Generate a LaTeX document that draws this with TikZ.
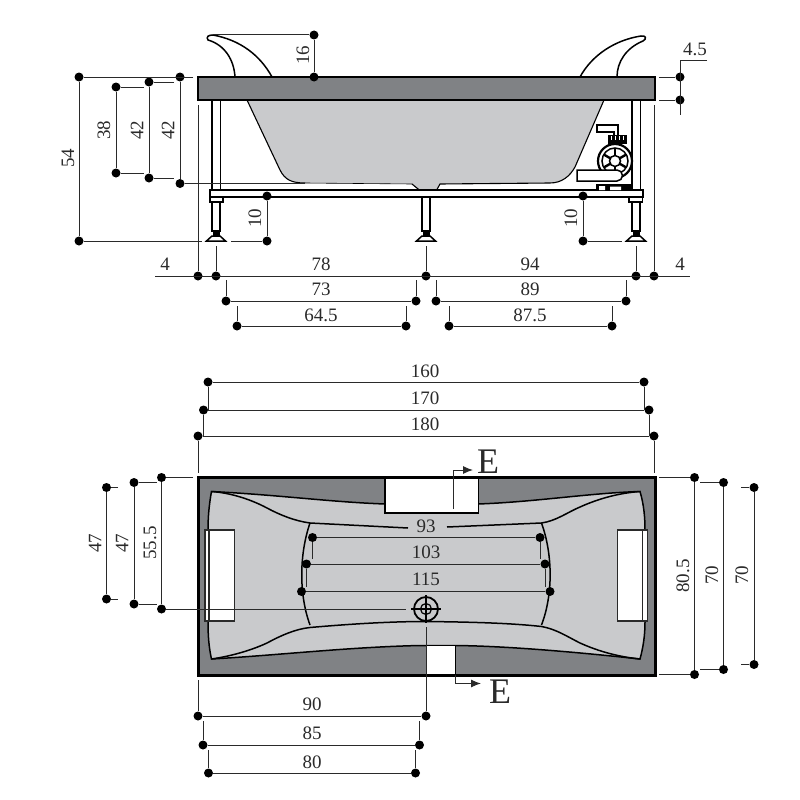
\documentclass[tikz,border=0pt]{standalone}
\usepackage{fontspec}
\setmainfont{Liberation Serif}
\usetikzlibrary{arrows.meta}
\definecolor{rimGray}{HTML}{808285}
\definecolor{bathGray}{HTML}{C9CACC}
\definecolor{dimInk}{HTML}{2A2A2A}
\tikzset{
  dimdot/.style={circle,fill=black,inner sep=0pt,minimum size=9pt},
  dimline/.style={draw=dimInk,line width=1pt},
  outline/.style={draw=black,line width=1.5pt},
  dimtext/.style={font=\fontsize{19}{19}\selectfont,inner sep=0pt,text=dimInk},
  uptext/.style={dimtext,rotate=90},
  secttext/.style={font=\fontsize{36}{36}\selectfont,inner sep=0pt,text=dimInk},
  cutarrow/.style={draw=dimInk,line width=1pt,-{Latex[length=10pt,width=8pt]}}
}
\begin{document}
\begin{tikzpicture}[x=1pt,y=-1pt]
  \useasboundingbox (0,0) rectangle (800,800);
  % side view
  \fill[bathGray] (247,100) -- (280,170) .. controls (285,180) and (292,183) .. (302,183)
     -- (412,184) -- (423,193) -- (435,193) -- (440,184) -- (550,183)
     .. controls (562,183) and (570,176) .. (575,167) -- (604,100) -- cycle;
  \draw[outline,line width=1.1pt] (247,100) -- (280,170) .. controls (285,180) and (292,183) .. (305,183);
  \draw[outline,line width=0.6pt] (305,183) -- (412,184);
  \draw[outline,line width=1.1pt] (412,184) -- (423,193) -- (435,193) -- (440,184) -- (550,183)
     .. controls (562,183) and (570,176) .. (575,167) -- (604,100);
  \draw[outline,fill=white] (213,35) .. controls (240,40) and (260,55) .. (272,77)
     -- (235,77) .. controls (234,60) and (225,45) .. (208,40)
     .. controls (206,37) and (208,35) .. (213,35) -- cycle;
  \draw[outline,fill=white] (641,36) .. controls (615,40) and (592,55) .. (580,77)
     -- (617,77) .. controls (617,62) and (626,48) .. (643,41)
     .. controls (647,39) and (646,35) .. (641,36) -- cycle;
  \draw[outline,fill=rimGray,line width=2pt] (198,77) rectangle (655,100);
  % frame and legs
  \draw[outline,fill=white] (212,100) rectangle (220.5,190);
  \draw[outline,fill=white] (632,100) rectangle (640.5,190);
  \draw[outline,fill=white] (210,190) rectangle (643,197);
  \foreach \legx in {216,426,636}{
    \draw[outline,fill=white] (\legx-4,197) rectangle (\legx+4,231);
    \fill[black] (\legx-3.5,231) rectangle (\legx+3.5,236);
    \draw[outline,fill=white] (\legx-4,236) -- (\legx+4,236) -- (\legx+9.5,241) -- (\legx-9.5,241) -- cycle;
  }
  \draw[outline,fill=white] (210,197) rectangle (223,202);
  \draw[outline,fill=white] (629,197) rectangle (642.5,202);
  % pump
  \draw[outline,fill=white] (597,125) -- (618,125) -- (618,136) -- (614,136) -- (614,132) -- (597,132) -- cycle;
  \fill[black] (608,135) rectangle (627,144);
  \foreach \ridge in {611,615,619,623}{
    \draw[white,line width=0.7pt] (\ridge,136) -- (\ridge,140);
  }
  \draw[outline,fill=white,line width=2.2pt] (615,161) circle (17);
  \draw[outline,fill=white] (615,161) circle (13);
  \foreach \spoke in {30,90,150}{
    \draw[black,line width=2.4pt] (\spoke:13) ++(615,161) -- ++(\spoke+180:26);
  }
  \draw[outline,fill=white] (615,161) circle (5.5);
  \draw[outline,fill=white] (577,170) -- (617,170) arc (-90:90:5.5) -- (577,181) -- cycle;
  \fill[black] (596,184) rectangle (632,190);
  \fill[white] (599,186) rectangle (605,190) (610,186.5) rectangle (621,190);
  % plan view
  \draw[outline,fill=rimGray,line width=3pt] (198,477.5) rectangle (655,675);
  \draw[outline,fill=bathGray] (211.5,491.5) .. controls (280,495) and (330,502) .. (385,504)
     -- (478,504) .. controls (535,502) and (590,493) .. (640,491.5)
     .. controls (644,505) and (645,518) .. (645,530) -- (645,622)
     .. controls (645,636) and (643,648) .. (640,659)
     .. controls (585,653) and (510,646) .. (455,645.5) -- (420,645.5)
     .. controls (350,647) and (280,655) .. (211.5,659)
     .. controls (209,648) and (208,636) .. (208,622) -- (208,530)
     .. controls (208,518) and (209,505) .. (211.5,491.5) -- cycle;
  \draw[outline] (211.5,491.5) .. controls (232,493) and (252,500) .. (267,508)
     .. controls (280,515) and (295,521) .. (310,523) -- (408,528);
  \draw[outline] (447,527) -- (541.5,523) .. controls (556,521) and (568,512) .. (580,507)
     .. controls (600,498) and (620,493) .. (640,491.5);
  \draw[outline] (211.5,659) .. controls (232,656) and (252,650) .. (267,643)
     .. controls (280,636) and (295,629) .. (310,627.5)
     .. controls (350,624) and (390,621.5) .. (426,621.5)
     .. controls (470,622) and (510,623) .. (541.5,626.5)
     .. controls (556,629) and (568,637) .. (580,643)
     .. controls (600,652) and (620,657) .. (640,659);
  \draw[outline] (310,523) .. controls (299,555) and (299,595) .. (310,625);
  \draw[outline] (541.5,523) .. controls (553,555) and (553,595) .. (541.5,625);
  \draw[outline,fill=white] (385,478) rectangle (478.5,513);
  \fill[white] (426,646) rectangle (455,674);
  \draw[outline,line width=1pt] (426,645.5) -- (455,645.5) -- (455,675);
  \draw[dimline,line width=1.2pt,fill=white] (205,530) rectangle (234.5,621);
  \draw[dimline,line width=1.2pt] (209,530) -- (209,621);
  \draw[dimline,line width=1.2pt,fill=white] (617.5,530) rectangle (647.5,621);
  \draw[dimline,line width=1.2pt] (642.5,530) -- (642.5,621);
  % drain
  \draw[black,line width=1.8pt] (426,609) circle (12);
  \draw[black,line width=1.2pt] (426,609) circle (5.5);
  \draw[black,line width=1.2pt] (411,609) -- (441,609) (426,595) -- (426,623);
  % dots
  \foreach \dotname/\dotx/\doty in {
    sixteenT/314/35, sixteenB/314/77,
    fiftyfourT/79/77, fiftyfourB/79/241,
    thirtyeightT/116/87, thirtyeightB/116/173,
    fortytwoAT/149/82, fortytwoAB/149/178,
    fortytwoBT/180/77, fortytwoBB/180/183.5,
    tenLT/267/196, tenLB/267/241, tenRT/583/196, tenRB/583/241,
    fourFiveT/680/77, fourFiveB/680/100,
    rowAa/198/276, rowAb/216/276, rowAc/426/276, rowAd/636/276, rowAe/654/276,
    rowBa/226/301, rowBb/416/301, rowBc/436/301, rowBd/626/301,
    rowCa/237/326, rowCb/406/326, rowCc/449/326, rowCd/612/326,
    oneSixtyL/208/382, oneSixtyR/644/382,
    oneSeventyL/203.5/410, oneSeventyR/649/410,
    oneEightyL/198/436, oneEightyR/654/436,
    ninetyThreeL/312.5/537.5, ninetyThreeR/540/537.5,
    hundredThreeL/306.5/564, hundredThreeR/545/564,
    hundredFifteenL/301.5/591.5, hundredFifteenR/550/591.5,
    fiftyFiveT/161.5/477.5, fiftyFiveB/161.5/609,
    fortysevenAT/134/482.5, fortysevenAB/134/604,
    fortysevenBT/106.5/487.5, fortysevenBB/106.5/599,
    eightyFiveT/694.5/477.5, eightyFiveB/694.5/674.5,
    seventyAT/723.5/482.5, seventyAB/723.5/669.5,
    seventyBT/754/487.5, seventyBB/754/664.5,
    ninetyL/198/716, ninetyR/426/716,
    lowEightyFiveL/203/745, lowEightyFiveR/419.5/745,
    lowEightyL/208.5/773, lowEightyR/415.5/773}{
    \node[dimdot] (\dotname) at (\dotx,\doty) {};
  }
  % free ends of the dimension lines
  \foreach \endname/\endx/\endy in {
    tapL/213/35, e54t/193/77, e54b/202/241, e38t/144/87, e38b/144/173,
    e42at/174/82, e42ab/174/178, e42bt/193/77, e42bb/305/183.5,
    e10l/231/241, e10r/622/241, e45a/659/77, e45b/659/100,
    e45up/680/61, e45out/707/61, e45low/680/115,
    fourL/155/276, fourR/690/276,
    upAa/198/105, upAb/216/246, upAc/426/246, upAd/636/246, upAe/654/105,
    upBa/226/280, upBb/416/280, upBc/436/280, upBd/626/280,
    upCa/237/306, upCb/406/306, upCc/449/306, upCd/612/306,
    lowSixtyL/208/410, lowSixtyR/644/410, lowSeventyL/203.5/436, lowSeventyR/649/436,
    lowEightyTL/198/472.5, lowEightyTR/654/472.5,
    tick93L/312.5/559, tick93R/540/559, tick103L/306.5/587, tick103R/545/587,
    e55t/193/477.5, e55b/406/609, e47at/157/482.5, e47ab/157/604,
    e47bt/118/487.5, e47bb/118/599,
    e80t/659/477.5, e80b/659/674.5, e70at/700/482.5, e70ab/700/669.5,
    e70bt/741/487.5, e70bb/741/664.5,
    drainUp/426/627, upNinetyL/198/680, up85L/203/721, up85R/419.5/721,
    up80L/208.5/750, up80R/415.5/750,
    cutTa/453.5/509, cutTb/453.5/470, cutTc/473/470,
    cutBa/455/675, cutBb/455/683.5, cutBc/481/683.5}{
    \coordinate (\endname) at (\endx,\endy);
  }
  % dimension lines
  \draw[dimline] (tapL) -- (sixteenT) -- (sixteenB);
  \draw[dimline] (e54t) -- (fiftyfourT) -- (fiftyfourB) -- (e54b);
  \draw[dimline] (e38t) -- (thirtyeightT) -- (thirtyeightB) -- (e38b);
  \draw[dimline] (e42at) -- (fortytwoAT) -- (fortytwoAB) -- (e42ab);
  \draw[dimline] (e42bt) -- (fortytwoBT) -- (fortytwoBB) -- (e42bb);
  \draw[dimline] (tenLT) -- (tenLB) -- (e10l);
  \draw[dimline] (tenRT) -- (tenRB) -- (e10r);
  \draw[dimline] (e45a) -- (fourFiveT) (e45b) -- (fourFiveB) (e45out) -- (e45up) -- (e45low);
  \draw[dimline] (fourL) -- (fourR);
  \draw[dimline] (upAa) -- (rowAa) (upAb) -- (rowAb) (upAc) -- (rowAc) (upAd) -- (rowAd) (upAe) -- (rowAe);
  \draw[dimline] (upBa) -- (rowBa) -- (rowBb) -- (upBb) (upBc) -- (rowBc) -- (rowBd) -- (upBd);
  \draw[dimline] (upCa) -- (rowCa) -- (rowCb) -- (upCb) (upCc) -- (rowCc) -- (rowCd) -- (upCd);
  \draw[dimline] (lowSixtyL) -- (oneSixtyL) -- (oneSixtyR) -- (lowSixtyR);
  \draw[dimline] (lowSeventyL) -- (oneSeventyL) -- (oneSeventyR) -- (lowSeventyR);
  \draw[dimline] (lowEightyTL) -- (oneEightyL) -- (oneEightyR) -- (lowEightyTR);
  \draw[dimline] (ninetyThreeL) -- (ninetyThreeR) (ninetyThreeL) -- (tick93L) (ninetyThreeR) -- (tick93R);
  \draw[dimline] (hundredThreeL) -- (hundredThreeR) (hundredThreeL) -- (tick103L) (hundredThreeR) -- (tick103R);
  \draw[dimline] (hundredFifteenL) -- (hundredFifteenR);
  \draw[dimline] (e55t) -- (fiftyFiveT) -- (fiftyFiveB) -- (e55b);
  \draw[dimline] (e47at) -- (fortysevenAT) -- (fortysevenAB) -- (e47ab);
  \draw[dimline] (e47bt) -- (fortysevenBT) -- (fortysevenBB) -- (e47bb);
  \draw[dimline] (e80t) -- (eightyFiveT) -- (eightyFiveB) -- (e80b);
  \draw[dimline] (e70at) -- (seventyAT) -- (seventyAB) -- (e70ab);
  \draw[dimline] (e70bt) -- (seventyBT) -- (seventyBB) -- (e70bb);
  \draw[dimline] (upNinetyL) -- (ninetyL) -- (ninetyR) -- (drainUp);
  \draw[dimline] (up85L) -- (lowEightyFiveL) -- (lowEightyFiveR) -- (up85R);
  \draw[dimline] (up80L) -- (lowEightyL) -- (lowEightyR) -- (up80R);
  \draw[cutarrow] (cutTa) -- (cutTb) -- (cutTc);
  \draw[cutarrow] (cutBa) -- (cutBb) -- (cutBc);
  % labels
  \foreach \txtname/\txtx/\txty/\txt in {
    lblTopA/165/264/4, lblTopB/321/264/78, lblTopC/530/264/94, lblTopD/680/264/4,
    lblMidA/321/289/73, lblMidB/530/289/89, lblLowA/321/315/64.5, lblLowB/530/315/87.5,
    lblFourFive/695/49/4.5,
    lblPlanA/425/371/160, lblPlanB/425/398/170, lblPlanC/425/424/180,
    lblInA/426/526/93, lblInB/426/552/103, lblInC/426/579/115,
    lblBotA/312/704/90, lblBotB/312/733/85, lblBotC/312/762/80}{
    \node[dimtext] (\txtname) at (\txtx,\txty) {\txt};
  }
  \foreach \txtname/\txtx/\txty/\txt in {
    lblUpA/303/55/16, lblUpB/68/158/54, lblUpC/104/130/38, lblUpD/137/130/42, lblUpE/168/130/42,
    lblUpF/255/218/10, lblUpG/571/218/10,
    lblUpH/95/543/47, lblUpI/122/543/47, lblUpJ/150/543/55.5,
    lblUpK/683/576/80.5, lblUpL/712/575/70, lblUpM/742/575/70}{
    \node[uptext] (\txtname) at (\txtx,\txty) {\txt};
  }
  \node[secttext] (sectTop) at (488,462) {E};
  \node[secttext] (sectBot) at (500,692) {E};
\end{tikzpicture}
\end{document}
